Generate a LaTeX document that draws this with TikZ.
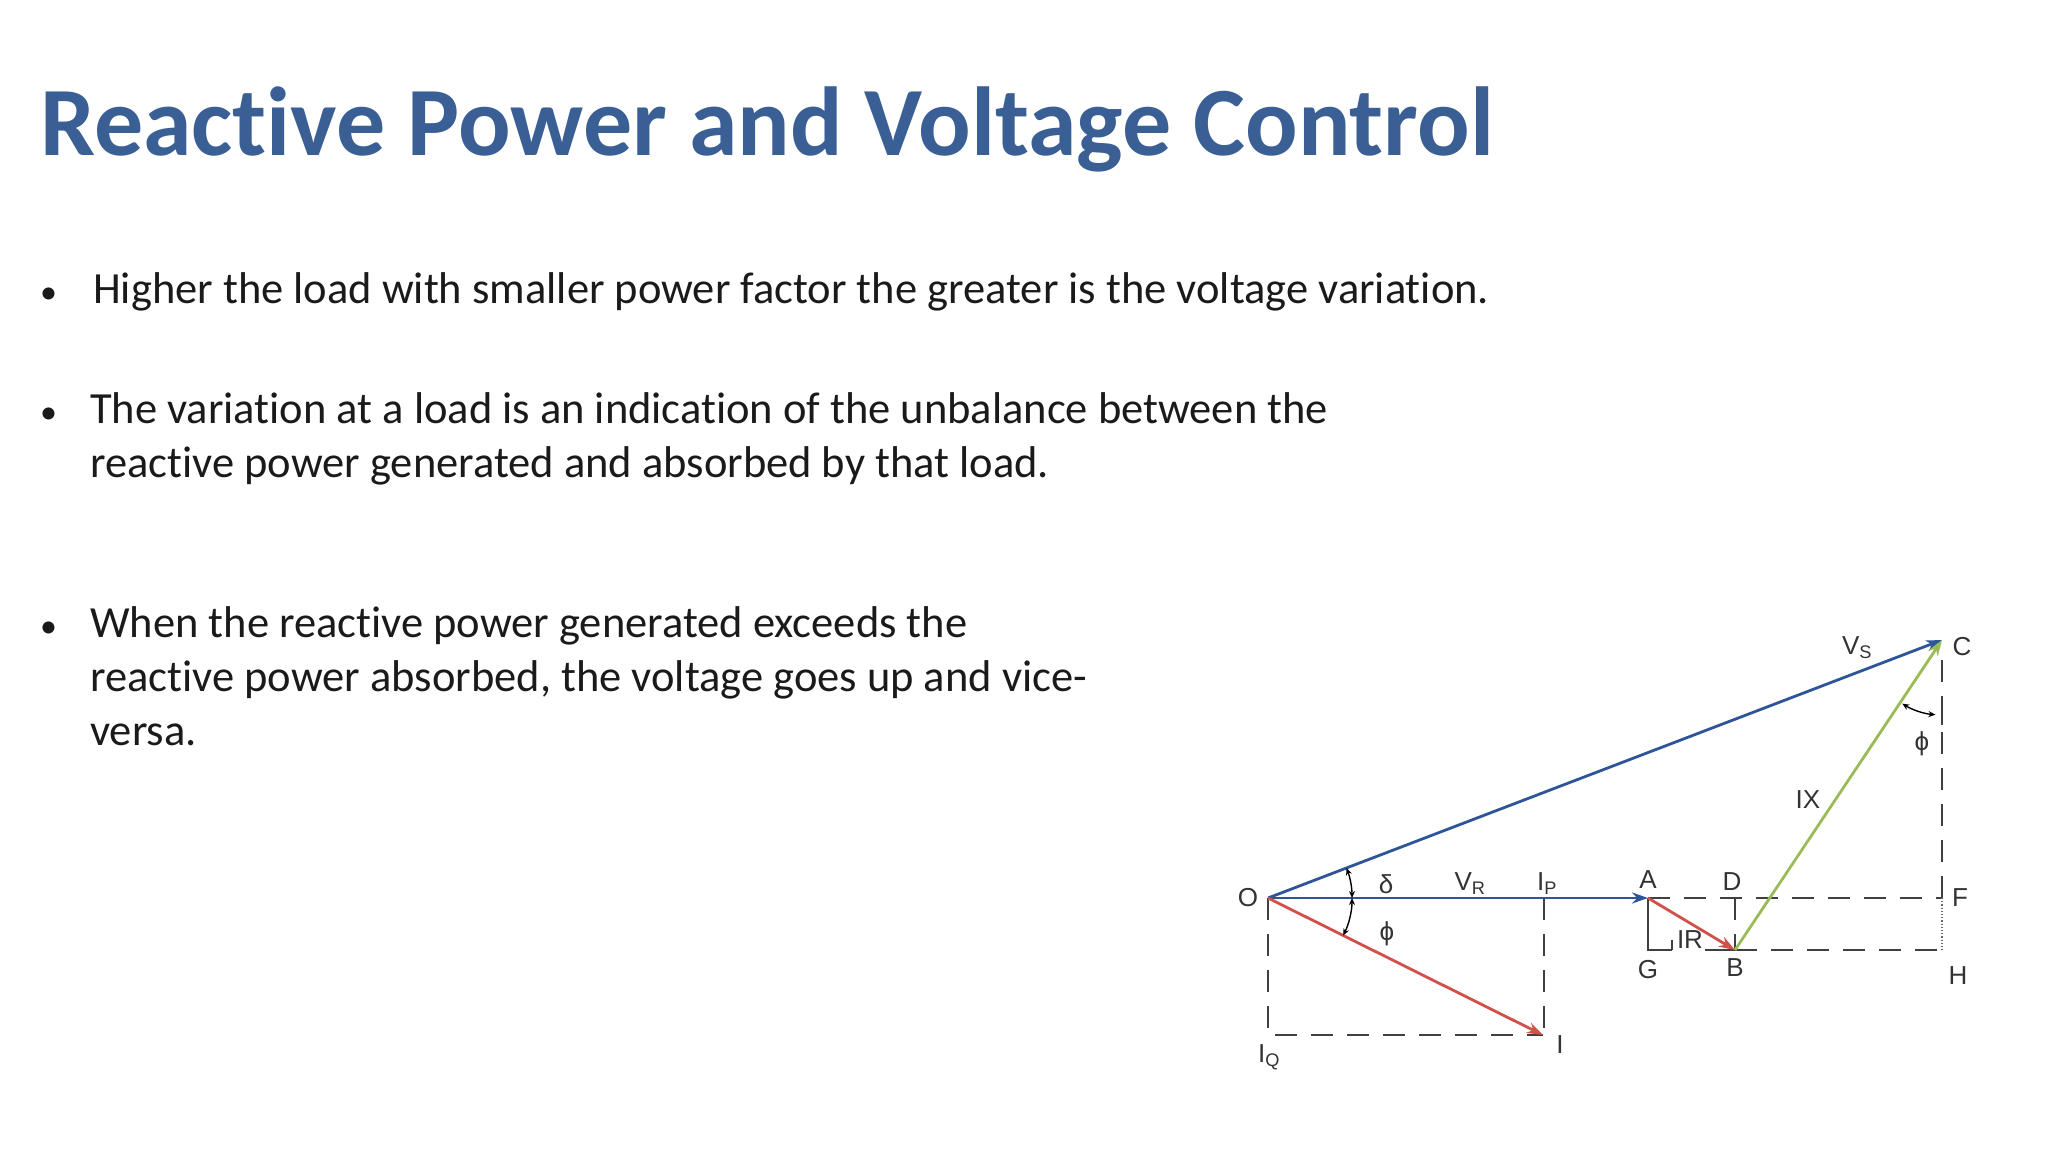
\documentclass[tikz,border=0pt]{standalone}
\usepackage{fontspec}
\setmainfont[Ligatures=NoCommon]{Carlito}
\newfontfamily\lsans{Liberation Sans}
\usetikzlibrary{arrows.meta}
\definecolor{ttl}{HTML}{3A5F95}
\definecolor{vblue}{HTML}{2E5597}
\definecolor{ired}{HTML}{D0504A}
\definecolor{xgreen}{HTML}{9BBB59}
\definecolor{txt}{HTML}{1A1A1A}
\tikzset{
  body/.style={anchor=base west,inner sep=0pt,text=txt,font=\fontsize{44.5}{53.5}\selectfont},
  bul/.style={anchor=base west,inner sep=0pt,text=txt,font=\fontsize{34}{34}\selectfont},
  lab/.style={inner sep=0pt,font=\lsans\fontsize{26}{26}\selectfont,text=black!80},
  vec/.style={line width=2.8pt,-{Stealth[length=16pt,width=11pt]}},
  dsh/.style={line width=1.8pt,dash pattern=on 22pt off 14pt,black!75},
  sol/.style={line width=1.8pt,black!75},
  ang/.style={line width=1.4pt,{Stealth[length=7pt,width=6pt]}-{Stealth[length=7pt,width=6pt]}}
}
\begin{document}
\begin{tikzpicture}[x=1pt,y=-1pt]
\useasboundingbox (0,0) rectangle (2048,1152);
\node[anchor=base west,inner sep=0pt,text=ttl,font=\bfseries\fontsize{98}{98}\selectfont] (title) at (40,155) {Reactive Power and Voltage Control};
\node[bul] (b1) at (40,303) {•};
\node[body] (t1) at (93,303) {Higher the load with smaller power factor the greater is the voltage variation.};
\node[bul] (b2) at (40,423) {•};
\node[body] (t2a) at (90,423) {The variation at a load is an indication of the unbalance between the};
\node[body] (t2b) at (90,477) {reactive power generated and absorbed by that load.};
\node[bul] (b3) at (40,637) {•};
\node[body] (t3a) at (90,637) {When the reactive power generated exceeds the};
\node[body] (t3b) at (90,691) {reactive power absorbed, the voltage goes up and vice-};
\node[body] (t3c) at (90,745) {versa.};
% diagram points
\coordinate (O) at (1268,898);
\coordinate (A) at (1648,898);
\coordinate (B) at (1735,950);
\coordinate (C) at (1942,640);
\coordinate (F) at (1942,898);
\coordinate (H) at (1942,950);
\coordinate (G) at (1648,950);
\coordinate (D) at (1735,898);
\coordinate (I) at (1543,1035);
\coordinate (IQc) at (1268,1035);
\coordinate (IPc) at (1544,898);
\coordinate (Ctop) at (1942,658);
% dashed construction
\draw[dsh] (O) -- (IQc) -- (I);
\draw[dsh] (IPc) -- (1544,1030);
\draw[dsh] (A) -- (F);
\draw[dsh] (D) -- (B);
\draw[dsh] (B) -- (H);
\draw[dsh] (F) -- (Ctop);
\draw[line width=1.2pt,dotted,black!60] (F) -- (H);
\draw[sol] (A) -- (G) -- (1672,950);
\draw[sol] (1672,950) -- (1672,940);
\draw[sol] (1705,950) -- (B);
% vectors
\draw[vec,vblue] (O) -- (C);
\draw[vec,vblue] (O) -- (A);
\draw[vec,ired] (O) -- (I);
\draw[vec,ired] (A) -- (B);
\draw[vec,xgreen] (B) -- (C);
% angle arcs
\draw[ang] (O) ++(-20.9:84) arc[start angle=-20.9,end angle=0,radius=84];
\draw[ang] (O) ++(0:84) arc[start angle=0,end angle=26.5,radius=84];
\draw[ang] (C) ++(95:75) arc[start angle=95,end angle=122,radius=75];
\draw[sol] (1942,705) -- (1942,725);
% labels
\node[lab] (lO) at (1248,898) {O};
\node[lab] (ld) at (1386,884) {δ};
\node[lab] (lph) at (1387,934) {ϕ};
\node[lab] (lVR) at (1470,884) {V\textsubscript{R}};
\node[lab] (lIP) at (1547,884) {I\textsubscript{P}};
\node[lab] (lIQ) at (1269,1057) {I\textsubscript{Q}};
\node[lab] (lI) at (1560,1045) {I};
\node[lab] (lA) at (1648,880) {A};
\node[lab] (lD) at (1732,882) {D};
\node[lab] (lF) at (1960,898) {F};
\node[lab] (lG) at (1648,970) {G};
\node[lab] (lB) at (1735,968) {B};
\node[lab] (lH) at (1958,976) {H};
\node[lab] (lC) at (1962,647) {C};
\node[lab] (lVs) at (1857,648) {V\textsubscript{S}};
\node[lab] (lIX) at (1808,800) {IX};
\node[lab] (lph2) at (1922,744) {ϕ};
\node[lab] (lIR) at (1690,940) {IR};
\end{tikzpicture}
\end{document}
